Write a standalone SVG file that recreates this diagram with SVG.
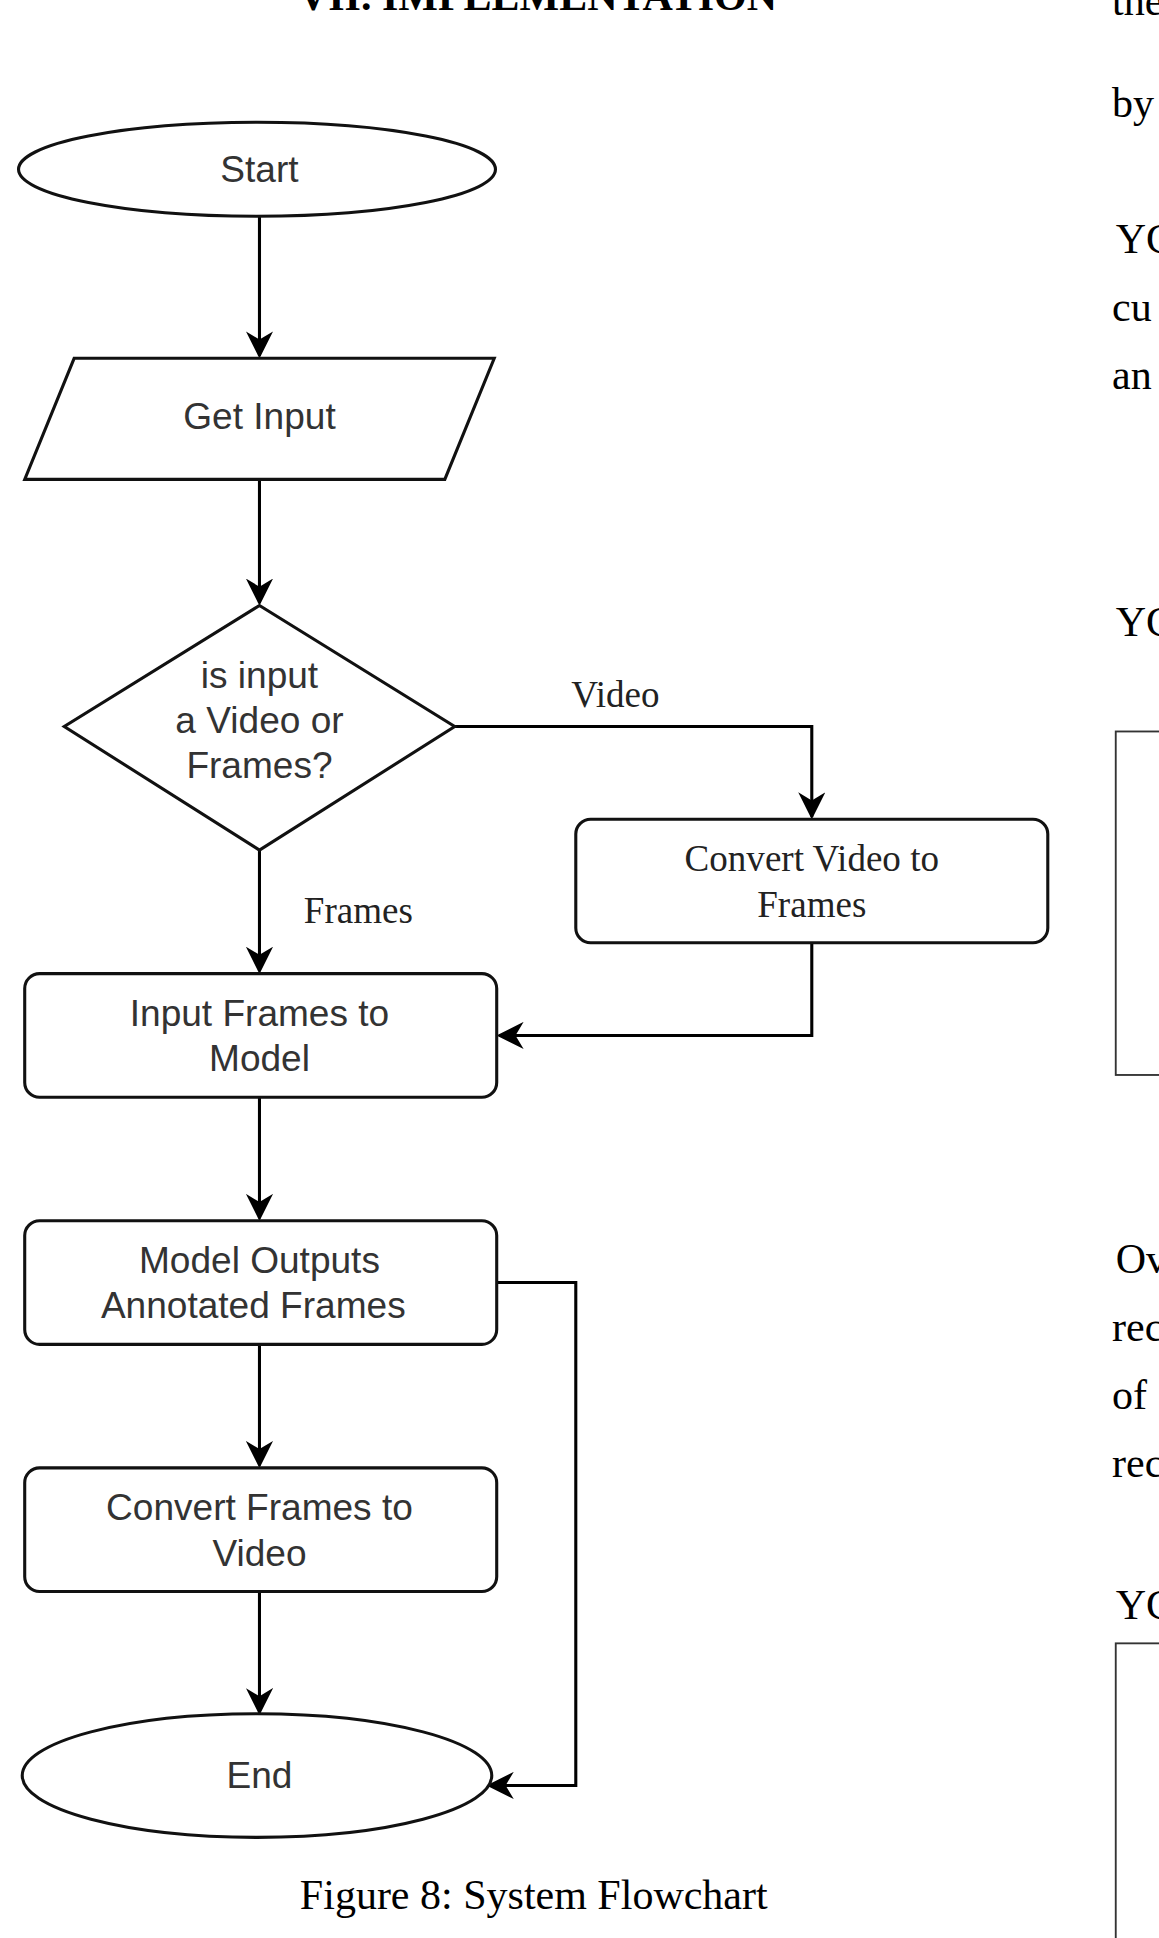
<svg xmlns="http://www.w3.org/2000/svg" width="1159" height="1938" viewBox="0 0 1159 1938">
<defs>
<marker id="ah" viewBox="0 0 10 10" refX="9" refY="5" markerWidth="22" markerHeight="22" markerUnits="userSpaceOnUse" orient="auto"><path d="M0,0 L10,5 L0,10 L3,5 Z" fill="#000"/></marker>
<style>
.s{fill:#fff;stroke:#111;stroke-width:2.5}
.t{font-family:"Liberation Sans",Arial,sans-serif;font-size:30px;fill:#333;text-anchor:middle}
.l{font-family:"Liberation Serif",serif;font-size:30px;fill:#222;text-anchor:middle}
.c{fill:none;stroke:#000;stroke-width:2.5}
.p{font-family:"Liberation Serif",serif;font-size:34px;fill:#000}
</style>
</defs>
<rect width="1159" height="1938" fill="#fff"/>
<g transform="scale(1.2356)">
<text x="435" y="8" class="p" text-anchor="middle" font-weight="bold" font-size="30">VII. IMPLEMENTATION</text>
<text x="900" y="12" class="p">the</text>
<text x="900" y="95" class="p">by</text>
<text x="903" y="205" class="p">YC</text>
<text x="900" y="260" class="p">cu</text>
<text x="900" y="315" class="p">an</text>
<text x="903" y="515" class="p">YC</text>
<rect x="903" y="592" width="40" height="278" fill="none" stroke="#333" stroke-width="1.5"/>
<text x="903" y="1030" class="p">Ov</text>
<text x="900" y="1085" class="p">rec</text>
<text x="900" y="1140" class="p">of</text>
<text x="900" y="1195" class="p">rec</text>
<text x="903" y="1310" class="p">YC</text>
<rect x="903" y="1330" width="40" height="250" fill="none" stroke="#333" stroke-width="1.5"/>
<g id="connectors">
<path class="c" d="M210,175 V288" marker-end="url(#ah)"/>
<path class="c" d="M210,388 V488" marker-end="url(#ah)"/>
<path class="c" d="M368,588 H657 V661" marker-end="url(#ah)"/>
<path class="c" d="M210,688 V786" marker-end="url(#ah)"/>
<path class="c" d="M657,763 V838 H404" marker-end="url(#ah)"/>
<path class="c" d="M210,888 V986" marker-end="url(#ah)"/>
<path class="c" d="M402,1038 H466 V1445 H396" marker-end="url(#ah)"/>
<path class="c" d="M210,1088 V1186" marker-end="url(#ah)"/>
<path class="c" d="M210,1288 V1386" marker-end="url(#ah)"/>
<text x="498" y="572" class="l">Video</text>
<text x="290" y="747" class="l">Frames</text>
</g>
<g id="start"><ellipse class="s" cx="208" cy="137" rx="193" ry="38"/><text x="210" y="147" class="t">Start</text></g>
<g id="input"><polygon class="s" points="60,290 400,290 360,388 20,388"/><text x="210" y="347" class="t">Get Input</text></g>
<g id="decision"><polygon class="s" points="210,490 368,588 210,688 52,588"/><text x="210" y="557" class="t">is input</text><text x="210" y="593" class="t">a Video or</text><text x="210" y="630" class="t">Frames?</text></g>
<g id="convert1"><rect class="s" x="466" y="663" width="382" height="100" rx="12"/><text x="657" y="705" class="l">Convert Video to</text><text x="657" y="742" class="l">Frames</text></g>
<g id="inputframes"><rect class="s" x="20" y="788" width="382" height="100" rx="12"/><text x="210" y="830" class="t">Input Frames to</text><text x="210" y="867" class="t">Model</text></g>
<g id="model"><rect class="s" x="20" y="988" width="382" height="100" rx="12"/><text x="210" y="1030" class="t">Model Outputs</text><text x="205" y="1067" class="t">Annotated Frames</text></g>
<g id="convert2"><rect class="s" x="20" y="1188" width="382" height="100" rx="12"/><text x="210" y="1230" class="t">Convert Frames to</text><text x="210" y="1267" class="t">Video</text></g>
<g id="end"><ellipse class="s" cx="208" cy="1437" rx="190" ry="50"/><text x="210" y="1447" class="t">End</text></g>
<text x="432" y="1545" class="p" text-anchor="middle">Figure 8: System Flowchart</text>
</g>
</svg>
